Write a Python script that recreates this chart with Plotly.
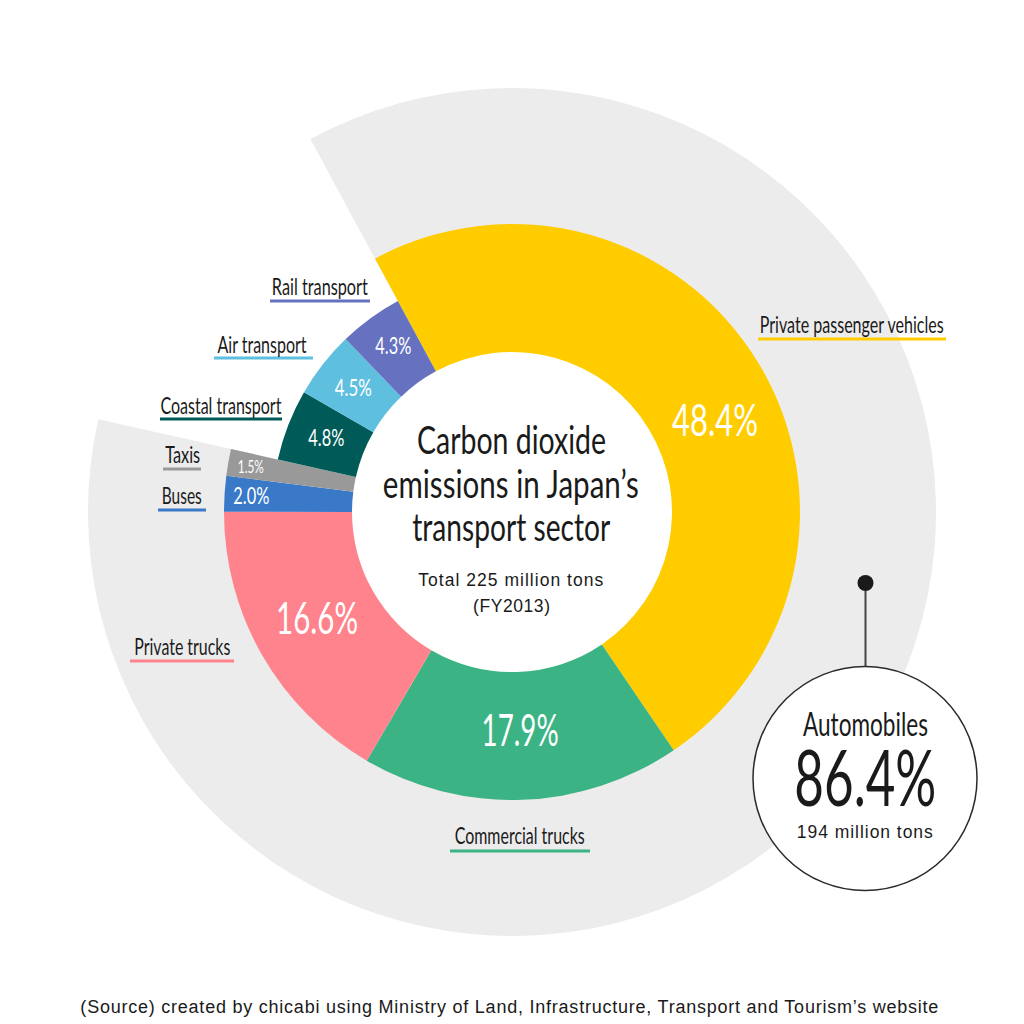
import json
import plotly.graph_objects as go

# ---- data ----
categories = ["Private passenger vehicles", "Commercial trucks", "Private trucks", "Buses",
              "Taxis", "Coastal transport", "Air transport", "Rail transport"]
shares = [48.4, 17.9, 16.6, 2.0, 1.5, 4.8, 4.5, 4.3]
share_labels = ["48.4%", "17.9%", "16.6%", "2.0%", "1.5%", "4.8%", "4.5%", "4.3%"]
group_names = ["Automobiles", "Other"]
group_shares = [86.4, 13.6]

# ---- styles ----
colors = ["#FFCC00", "#3BB384", "#FF838C", "#3A78C8", "#999999", "#005B58", "#5FBFDF", "#6672BF"]
CLEAR = "rgba(0,0,0,0)"
W = 1024
CX, CY = 512, 512
R_OUT, R_IN, R_MID, R_HOLE = 424, 288, 240, 160
COND = "Lato, 'Liberation Sans', sans-serif"
BODY = "'Liberation Sans', Arial, sans-serif"
INK = "#1a1a1a"
ROT = 331.6

def fx(p): return p / W
def fy(p): return 1 - p / W
def dom(r): return dict(x=[fx(CX - r), fx(CX + r)], y=[fy(CY + r), fy(CY - r)])

fig = go.Figure()
common = dict(sort=False, direction="clockwise", rotation=ROT, textinfo="none", showlegend=False)
fig.add_trace(go.Pie(labels=group_names, values=group_shares, domain=dom(R_OUT), hole=0.6,
                     marker=dict(colors=["#ECECEC", CLEAR], line=dict(width=0)),
                     hoverinfo="skip", **common))
fig.add_trace(go.Pie(labels=categories, values=shares, domain=dom(R_IN), hole=R_HOLE / R_IN,
                     marker=dict(colors=colors[:5] + [CLEAR] * 3, line=dict(width=0)),
                     hoverinfo="label+percent", **common))
fig.add_trace(go.Pie(labels=categories, values=shares, domain=dom(R_MID), hole=R_HOLE / R_MID,
                     marker=dict(colors=[CLEAR] * 5 + colors[5:], line=dict(width=0)),
                     hoverinfo="label+percent", **common))

# percentage labels: (x, y, size)
pct_pos = [(715, 421, 44), (520, 731, 44), (317, 619, 44), (251, 497, 23),
           (251, 467, 18), (326, 439, 23), (353, 389, 23), (393, 347, 23)]
# category labels: (x, y, size), underline (x0, x1, y)
cat_pos = [(852, 326, 23), (519, 837, 23), (182, 648, 23), (182, 497, 23),
           (182, 456, 23), (221, 407, 23), (262, 346, 23), (320, 288, 23)]
rules = [(758, 946, 339), (450, 590, 851), (130, 234, 661), (158, 206, 510),
         (163, 201, 469), (160, 282, 419), (214, 313, 358), (270, 370, 301)]

# target widths of text as drawn in the reference, px
squeeze_widths = {
    "Private passenger vehicles": 184, "Commercial trucks": 130, "Private trucks": 96, "Buses": 40,
    "Taxis": 35, "Coastal transport": 121, "Air transport": 89, "Rail transport": 96,
    "48.4%": 86, "17.9%": 77, "16.6%": 82, "2.0%": 36, "1.5%": 26, "4.8%": 36, "4.5%": 37, "4.3%": 36,
    "Carbon dioxide": 189, "emissions in Japan’s": 256, "transport sector": 198,
    "Automobiles": 125, "86.4%": 142,
}
track_widths = {
    "Total 225 million tons": 185, "(FY2013)": 77, "194 million tons": 136,
    "(Source) created by chicabi using Ministry of Land, Infrastructure, Transport and Tourism’s website": 858,
}

ann = []
def text(x, y, s, size, font=COND, color=INK):
    if font == COND:
        y -= 1 + size * 0.025
    ann.append(dict(x=fx(x), y=fy(y), xref="paper", yref="paper", text=s, showarrow=False,
                    xanchor="center", yanchor="middle", font=dict(family=font, size=size, color=color)))

for s, (x, y, sz) in zip(share_labels, pct_pos):
    text(x, y, s, sz, color="white")
for s, (x, y, sz) in zip(categories, cat_pos):
    text(x, y, s, sz)

text(511, 441, "Carbon dioxide", 39)
text(511, 485, "emissions in Japan’s", 39)
text(511, 528, "transport sector", 39)
text(511, 580, "Total 225 million tons", 17.5, BODY)
text(511, 606, "(FY2013)", 17.5, BODY)
text(865, 725, "Automobiles", 32)
text(865, 779, "86.4%", 78)
text(865, 832, "194 million tons", 17.5, BODY)
text(509, 1007, "(Source) created by chicabi using Ministry of Land, Infrastructure, Transport and Tourism’s website", 18, BODY)

shapes = []
for (x0, x1, y), c in zip(rules, colors):
    shapes.append(dict(type="line", xref="paper", yref="paper", x0=fx(x0), x1=fx(x1), y0=fy(y), y1=fy(y),
                       line=dict(color=c, width=3)))
shapes.append(dict(type="line", xref="paper", yref="paper", x0=fx(865.5), x1=fx(865.5), y0=fy(583), y1=fy(667),
                   line=dict(color="#444444", width=2)))
shapes.append(dict(type="circle", xref="paper", yref="paper", x0=fx(857.5), x1=fx(873.5), y0=fy(591), y1=fy(575),
                   fillcolor=INK, line=dict(width=0)))
shapes.append(dict(type="circle", xref="paper", yref="paper", x0=fx(753), x1=fx(977), y0=fy(890.5), y1=fy(666.5),
                   fillcolor="white", line=dict(color="#2a2a2a", width=1.5)))

fig.update_layout(width=W, height=W, margin=dict(l=0, r=0, t=0, b=0), paper_bgcolor="white",
                  plot_bgcolor="white", showlegend=False, annotations=ann, shapes=shapes)

post = """
document.body.style.margin='0';
var S=%s, K=%s;
document.querySelectorAll('text.annotation-text').forEach(function(t){
  var s=t.textContent;
  if(S[s]){t.setAttribute('textLength',S[s]);t.setAttribute('lengthAdjust','spacingAndGlyphs');}
  else if(K[s]){t.setAttribute('textLength',K[s]);t.setAttribute('lengthAdjust','spacing');}
});
""" % (json.dumps(squeeze_widths), json.dumps(track_widths))
fig.write_html("out.html", config={"displayModeBar": False}, post_script=post)
